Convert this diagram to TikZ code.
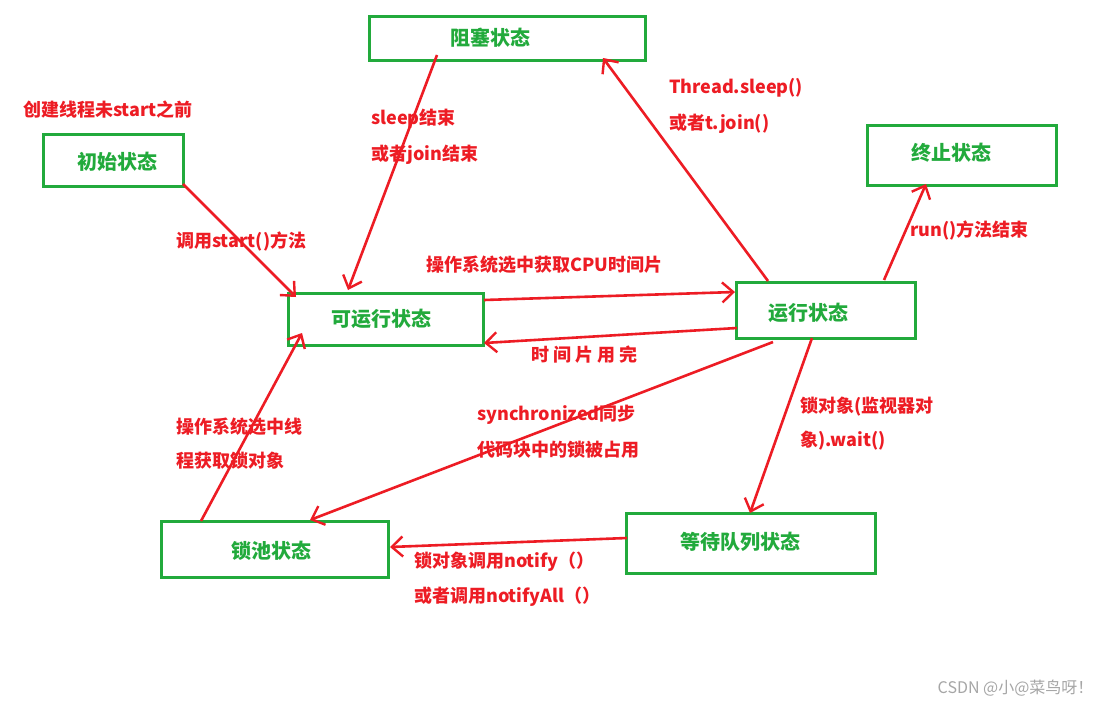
\documentclass[tikz,border=0pt]{standalone}
\usepackage{fontspec}
\setmainfont{Noto Sans CJK SC}
\usetikzlibrary{arrows.meta}
\definecolor{gr}{RGB}{34,170,60}
\definecolor{rd}{RGB}{237,28,36}
\tikzset{
 st/.style={draw=gr,line width=3pt,inner sep=0pt},
 stt/.style={text=gr,font=\fontsize{20}{23}\selectfont\bfseries,inner sep=0pt},
 ar/.style={draw=rd,line width=2.6pt,-{Straight Barb[length=11pt,width=20pt,line width=2.4pt]}},
 lb/.style={text=rd,font=\fontsize{18}{21}\selectfont\bfseries,inner sep=0pt,anchor=west},
}
\begin{document}
\begin{tikzpicture}[x=1pt,y=-1pt]
\useasboundingbox[fill=white] (0,0) rectangle (1107,707);
\node[st,minimum width=276pt,minimum height=44pt] (blk) at (507,38) {};
\node[stt] (blkT) at (490,38) {阻塞状态};
\node[st,minimum width=140pt,minimum height=52pt] (ini) at (113,160) {};
\node[stt] (iniT) at (117,162) {初始状态};
\node[st,minimum width=189pt,minimum height=60pt] (end) at (962,155) {};
\node[stt] (endT) at (951,153) {终止状态};
\node[st,minimum width=195pt,minimum height=52pt] (rdy) at (386,319) {};
\node[stt] (rdyT) at (381,319) {可运行状态};
\node[st,minimum width=179pt,minimum height=56pt] (run) at (826,310) {};
\node[stt] (runT) at (808,313) {运行状态};
\node[st,minimum width=227pt,minimum height=56pt] (lck) at (275,549) {};
\node[stt] (lckT) at (271,551) {锁池状态};
\node[st,minimum width=249pt,minimum height=60pt] (wai) at (751,543) {};
\node[stt] (waiT) at (740,542) {等待队列状态};

\coordinate (a1) at (183,184); \coordinate (a2) at (296,297);
\draw[ar] (a1) -- (a2);
\coordinate (b1) at (437,55); \coordinate (b2) at (348,290);
\draw[ar] (b1) -- (b2);
\coordinate (c1) at (768,281); \coordinate (c2) at (603,58);
\draw[ar] (c1) -- (c2);
\coordinate (d1) at (484,300); \coordinate (d2) at (735,292);
\draw[ar] (d1) -- (d2);
\coordinate (e1) at (737,328); \coordinate (e2) at (484,343);
\draw[ar] (e1) -- (e2);
\coordinate (f1) at (884,280); \coordinate (f2) at (926,184);
\draw[ar] (f1) -- (f2);
\coordinate (g1) at (773,342); \coordinate (g2) at (310,520);
\draw[ar] (g1) -- (g2);
\coordinate (h1) at (812,338); \coordinate (h2) at (750,513);
\draw[ar] (h1) -- (h2);
\coordinate (i1) at (627,538); \coordinate (i2) at (390,547);
\draw[ar] (i1) -- (i2);
\coordinate (j1) at (201,521); \coordinate (j2) at (302,333);
\draw[ar] (j1) -- (j2);

\node[lb] (t1) at (23,110) {创建线程未start之前};
\node[lb] (t2) at (176,241) {调用start()方法};
\node[lb] (t3) at (371,119) {sleep结束};
\node[lb] (t4) at (371,155) {或者join结束};
\node[lb] (t5) at (669,88) {Thread.sleep()};
\node[lb] (t6) at (669,124) {或者t.join()};
\node[lb] (t7) at (910,230) {run()方法结束};
\node[lb] (t8) at (426,265) {操作系统选中获取CPU时间片};
\node[lb] (t9) at (531,355) {时 间 片 用 完};
\node[lb] (t10) at (176,427) {操作系统选中线};
\node[lb] (t11) at (176,461) {程获取锁对象};
\node[lb] (t12) at (477,415) {synchronized同步};
\node[lb] (t13) at (477,450) {代码块中的锁被占用};
\node[lb] (t14) at (800,407) {锁对象(监视器对};
\node[lb] (t15) at (800,441) {象).wait()};
\node[lb] (t16) at (414,562) {锁对象调用notify（）};
\node[lb] (t17) at (414,597) {或者调用notifyAll（）};
\node[text=gray!70,font=\fontsize{16}{18}\selectfont,anchor=east] (wm) at (1097,688) {CSDN @小@菜鸟呀！};
\end{tikzpicture}
\end{document}
